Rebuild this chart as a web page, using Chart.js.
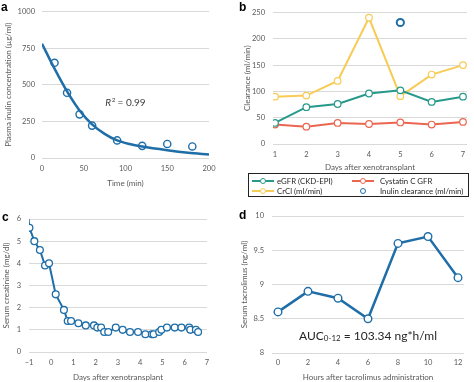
<!DOCTYPE html>
<html>
<head>
<meta charset="utf-8">
<script src="https://cdn.jsdelivr.net/npm/chart.js@4.4.1/dist/chart.umd.min.js"></script>
<style>
  body { margin: 0; background: #fff; }
  #wrap { position: relative; width: 474px; height: 382px; overflow: hidden; font-family: Lato, 'Open Sans', sans-serif; }
  .panel { position: absolute; }
  .tag { position: absolute; font: bold 12px 'Liberation Sans', Arial, sans-serif; color: #000; line-height: 12px; }
  #legend { position: absolute; left: 248px; top: 173px; width: 221px; height: 24px; border: 1px solid #222; box-sizing: border-box; }
  .item { position: absolute; height: 10px; font-size: 7.8px; color: #262626; line-height: 10px; white-space: nowrap; }
  .mk { position: absolute; top: 0; width: 22px; height: 10px; }
  .mk i { position: absolute; left: 0; top: 4px; width: 22px; height: 2px; }
  .mk b { position: absolute; left: 8px; top: 2px; width: 4px; height: 4px; border: 1.5px solid; border-radius: 50%; background: #fff; }
</style>
</head>
<body>
<div id="wrap">
  <canvas id="chart-a" class="panel" style="left:0;top:0"></canvas>
  <canvas id="chart-b" class="panel" style="left:237px;top:0"></canvas>
  <canvas id="chart-c" class="panel" style="left:0;top:190px"></canvas>
  <canvas id="chart-d" class="panel" style="left:237px;top:190px"></canvas>
  <div class="tag" style="left:1px;top:1px">a</div>
  <div class="tag" style="left:239px;top:1px">b</div>
  <div class="tag" style="left:2px;top:211px">c</div>
  <div class="tag" style="left:239px;top:209px">d</div>
  <div id="legend"></div>
</div>
<script>
// panel a: plasma inulin
const aTimes = [15, 30, 45, 60, 90, 120, 150, 180];
const aConc = [650, 445, 298, 221, 120, 83, 96, 79];
const aFitTimes = [0, 15, 30, 45, 60, 75, 90, 105, 120, 150, 175, 200];
const aFitConc = [780, 610, 455, 325, 230, 165, 120, 95, 78, 53, 36, 24];
const aXTicks = [0, 50, 100, 150, 200];
const aYTicks = [0, 250, 500, 750, 1000];
const aNote = { x: 100, y: 375, r2: '0.99' };

// panel b: clearance
const bDays = [1, 2, 3, 4, 5, 6, 7];
const bEgfr = [40, 70, 76, 96, 102, 80, 90];
const bCystatin = [37, 33, 40, 38, 41, 37, 42];
const bCrcl = [90, 92, 120, 240, 91, 132, 150];
const bInulinDays = [5];
const bInulin = [231];
const bYTicks = [0, 50, 100, 150, 200, 250];
const bLabels = ['eGFR (CKD-EPI)', 'Cystatin C GFR', 'CrCl (ml/min)', 'Inulin clearance (ml/min)'];

// panel c: serum creatinine
const cDays = [-1.05, -0.98, -0.76, -0.51, -0.28, -0.1, 0.2, 0.57, 0.74, 0.89, 1.22, 1.55, 1.92, 2.07, 2.24, 2.38, 2.56,
  2.9, 3.21, 3.54, 3.9, 4.23, 4.52, 4.6, 4.85, 4.95, 5.2, 5.55, 5.85, 6.2, 6.25, 6.5, 6.6];
const cCreat = [6.3, 5.6, 5.0, 4.6, 3.9, 4.0, 2.6, 1.9, 1.4, 1.4, 1.3, 1.2, 1.2, 1.1, 1.1, 0.9, 0.9,
  1.1, 1.0, 0.9, 0.9, 0.8, 0.8, 0.8, 0.9, 1.0, 1.1, 1.1, 1.1, 1.1, 1.0, 1.0, 0.9];
const cXTicks = [-1, 0, 1, 2, 3, 4, 5, 6, 7];
const cYTicks = [0, 1, 2, 3, 4, 5, 6];

// panel d: serum tacrolimus
const dHours = [0, 2, 4, 6, 8, 10, 12];
const dTacro = [8.6, 8.9, 8.8, 8.5, 9.6, 9.7, 9.1];
const dYTicks = [8, 8.5, 9, 9.5, 10];
const dNote = { x: 6, y: 8.25, auc: '103.34 ng*h/ml' };

const BLUE = '#1f6ea8';
const TEAL = '#27998a';
const RED = '#eb6650';
const YELLOW = '#f7cb55';
const GRID = '#d9d9d9';
const TXT = '#595959';

Chart.defaults.font.family = "Lato, 'Open Sans', sans-serif";
Chart.defaults.font.size = 7.5;
Chart.defaults.color = TXT;
Chart.defaults.animation = false;

function pts(xs, ys) {
  return xs.map((x, i) => ({ x: x, y: ys[i] }));
}

// plain numbers, real minus sign
function fmt(v) {
  return v < 0 ? '\u2212' + Math.abs(v) : String(v);
}

function scaleX(min, max, ticks, title, h, pad) {
  return {
    type: 'linear', min: min, max: max,
    afterBuildTicks: s => { s.ticks = ticks.map(v => ({ value: v })); },
    afterFit: s => { s.height = h; },
    grid: { display: false, drawTicks: false },
    border: { display: false },
    ticks: { padding: pad, maxRotation: 0, autoSkip: false, callback: fmt },
    title: { display: true, text: title, font: { size: 8 }, padding: { top: 0, bottom: 0 } }
  };
}

function scaleY(min, max, ticks, title, w, pad, tpad) {
  return {
    type: 'linear', min: min, max: max,
    afterBuildTicks: s => { s.ticks = ticks.map(v => ({ value: v })); },
    afterFit: s => { s.width = w; },
    grid: { color: GRID, lineWidth: 1, drawTicks: false },
    border: { display: false },
    ticks: { padding: pad, autoSkip: false, callback: fmt },
    title: { display: true, text: title, font: { size: 8 }, padding: { top: tpad, bottom: 0 } }
  };
}

function makeChart(id, w, h, datasets, scales, padding, extra) {
  const canvas = document.getElementById(id);
  canvas.width = w; canvas.height = h;
  canvas.style.width = w + 'px'; canvas.style.height = h + 'px';
  return new Chart(canvas.getContext('2d'), {
    type: 'scatter',
    data: { datasets: datasets },
    options: {
      responsive: false,
      devicePixelRatio: 1,
      layout: { padding: padding },
      plugins: { legend: { display: false }, tooltip: { enabled: false } },
      scales: scales
    },
    plugins: extra ? [extra] : []
  });
}

// text written at data coordinates
function notePlugin(draw) {
  return { id: 'note', afterDatasetsDraw(chart) { draw(chart.ctx, chart.scales.x, chart.scales.y); } };
}

// ---- a
makeChart('chart-a', 237, 190, [
  {
    data: pts(aFitTimes, aFitConc), showLine: true, pointRadius: 0,
    borderColor: BLUE, borderWidth: 2.5, cubicInterpolationMode: 'monotone'
  },
  {
    data: pts(aTimes, aConc), pointRadius: 3.6, pointBorderWidth: 1.4,
    pointBackgroundColor: '#fff', pointBorderColor: BLUE
  }
], {
  x: scaleX(0, 200, aXTicks, 'Time (min)', 30, 6),
  y: scaleY(0, 1000, aYTicks, 'Plasma inulin concentration (\u00b5g/ml)', 42, 7, 4)
}, { top: 7, right: 28, left: 0, bottom: 2 }, notePlugin((ctx, x, y) => {
  const px = x.getPixelForValue(aNote.x), py = y.getPixelForValue(aNote.y);
  ctx.save();
  ctx.fillStyle = '#404040';
  ctx.textBaseline = 'middle';
  ctx.font = "italic 10px Lato, sans-serif";
  const rest = ' = ' + aNote.r2;
  const wR = ctx.measureText('R').width;
  ctx.font = "6.5px Lato, sans-serif";
  const w2 = ctx.measureText('2').width;
  ctx.font = "10px Lato, sans-serif";
  const wRest = ctx.measureText(rest).width;
  let sx = px - (wR + w2 + wRest) / 2;
  ctx.font = "italic 10px Lato, sans-serif";
  ctx.fillText('R', sx, py);
  ctx.font = "6.5px Lato, sans-serif";
  ctx.fillText('2', sx + wR + 0.5, py - 3.5);
  ctx.font = "10px Lato, sans-serif";
  ctx.fillText(rest, sx + wR + w2, py);
  ctx.restore();
}));

// ---- b
const lineStyle = (c) => ({
  showLine: true, borderColor: c, borderWidth: 2, pointRadius: 3.3, pointBorderWidth: 1.2,
  pointBackgroundColor: '#fff', pointBorderColor: c
});
makeChart('chart-b', 237, 172, [
  Object.assign({ data: pts(bDays, bEgfr), order: 1 }, lineStyle(TEAL)),
  Object.assign({ data: pts(bDays, bCystatin), order: 3 }, lineStyle(RED)),
  Object.assign({ data: pts(bDays, bCrcl), order: 2 }, lineStyle(YELLOW)),
  {
    data: pts(bInulinDays, bInulin), order: 0, pointRadius: 3.6, pointBorderWidth: 2,
    pointBackgroundColor: '#fff', pointBorderColor: BLUE
  }
], {
  x: scaleX(0.936, 7.128, bDays, 'Days after xenotransplant', 28, 6),
  y: scaleY(0, 250, bYTicks, 'Clearance (ml/min)', 36, 8, 6)
}, { top: 7, right: 7, left: 0, bottom: 0 });

// ---- c
makeChart('chart-c', 237, 192, [
  {
    data: pts(cDays, cCreat), showLine: true, borderColor: BLUE, borderWidth: 2,
    pointRadius: cDays.map((d, i) => i === 0 ? 0 : 3.4), pointBorderWidth: 1.3,
    pointBackgroundColor: '#fff', pointBorderColor: BLUE
  }
], {
  x: scaleX(-1, 7, cXTicks, 'Days after xenotransplant', 30, 6),
  y: scaleY(0, 6, cYTicks, 'Serum creatinine (mg/dl)', 29, 8, 2)
}, { top: 29, right: 30, left: 0, bottom: 0 });

// ---- d
makeChart('chart-d', 237, 192, [
  {
    data: pts(dHours, dTacro), showLine: true, borderColor: BLUE, borderWidth: 2.5,
    pointRadius: 3.8, pointBorderWidth: 1.4,
    pointBackgroundColor: '#fff', pointBorderColor: BLUE
  }
], {
  x: scaleX(-0.4, 12.4, dHours, 'Hours after tacrolimus administration', 29, 5),
  y: scaleY(8, 10, dYTicks, 'Serum tacrolimus (ng/ml)', 35, 8, 3)
}, { top: 26, right: 10, left: 0, bottom: 0 }, notePlugin((ctx, x, y) => {
  const px = x.getPixelForValue(dNote.x), py = y.getPixelForValue(dNote.y);
  ctx.save();
  ctx.fillStyle = '#262626';
  ctx.textBaseline = 'middle';
  const big = "12px Lato, sans-serif", small = "8px Lato, sans-serif";
  const rest = ' = ' + dNote.auc;
  ctx.font = big;
  const wA = ctx.measureText('AUC').width, wR = ctx.measureText(rest).width;
  ctx.font = small;
  const wS = ctx.measureText('0-12').width;
  let sx = px - (wA + wS + wR) / 2;
  ctx.font = big; ctx.fillText('AUC', sx, py);
  ctx.font = small; ctx.fillText('0-12', sx + wA, py + 3);
  ctx.font = big; ctx.fillText(rest, sx + wA + wS, py);
  ctx.restore();
}));

// ---- legend for b
const legend = document.getElementById('legend');
const legendItems = [
  { label: bLabels[0], color: TEAL, line: true, left: 3, top: 2, gap: 25 },
  { label: bLabels[1], color: RED, line: true, left: 103, top: 2, gap: 28 },
  { label: bLabels[2], color: YELLOW, line: true, left: 3, top: 12, gap: 25 },
  { label: bLabels[3], color: BLUE, line: false, left: 103, top: 12, gap: 28 }
];
legendItems.forEach(it => {
  const div = document.createElement('div');
  div.className = 'item';
  div.style.left = it.left + 'px';
  div.style.top = it.top + 'px';
  const mk = document.createElement('span');
  mk.className = 'mk';
  if (it.line) {
    const i = document.createElement('i');
    i.style.background = it.color;
    mk.appendChild(i);
  }
  const b = document.createElement('b');
  b.style.borderColor = it.color;
  mk.appendChild(b);
  div.appendChild(mk);
  const t = document.createElement('span');
  t.textContent = it.label;
  t.style.marginLeft = it.gap + 'px';
  div.appendChild(t);
  legend.appendChild(div);
});
</script>
</body>
</html>
